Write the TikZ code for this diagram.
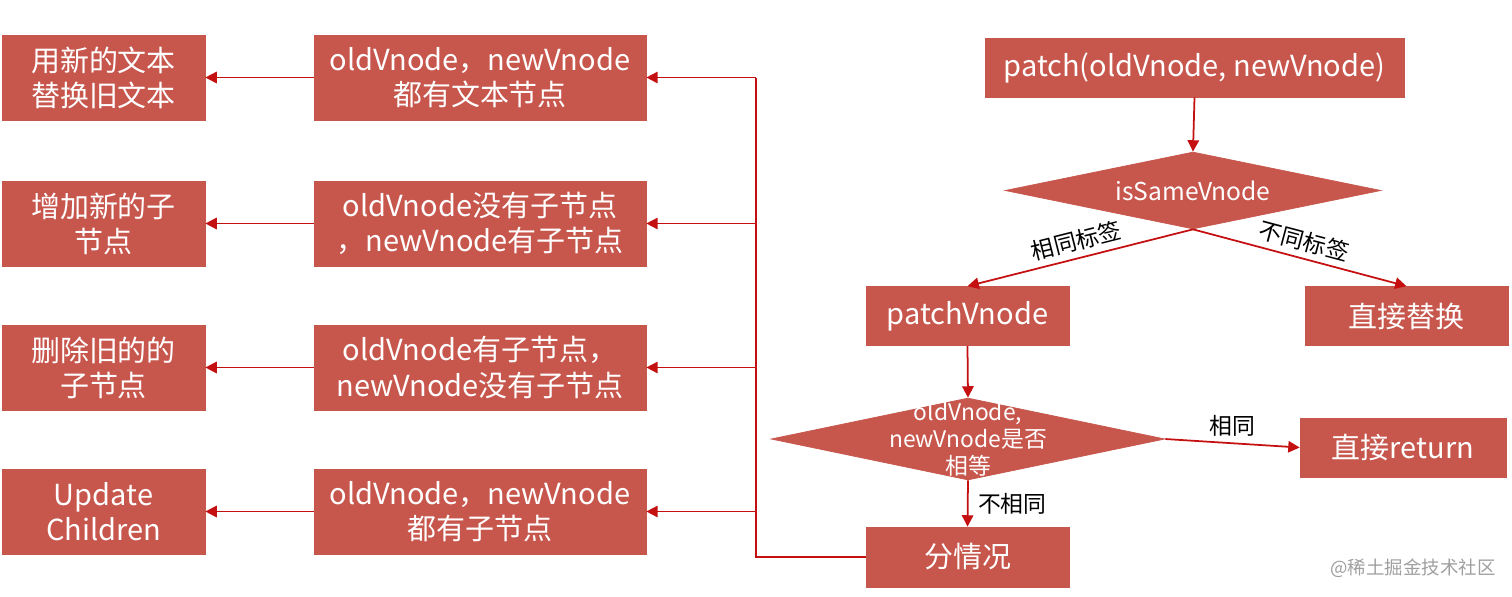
\documentclass[tikz,border=0pt]{standalone}
\usepackage{fontspec}
\setmainfont{Noto Sans CJK SC}
\usetikzlibrary{arrows.meta}
\usetikzlibrary{shapes.geometric}
\usetikzlibrary{calc}
\usepackage{xcolor}

\definecolor{boxred}{RGB}{199,86,76}
\definecolor{linered}{RGB}{196,16,16}

\tikzset{
  box/.style={draw=boxred, fill=boxred, text=white, align=center, inner sep=0pt,
    minimum width=4.06cm, minimum height=1.7cm, font=\fontsize{16.5}{20}\selectfont},
  smallbox/.style={box, minimum height=1.18cm},
  decision/.style={diamond, draw=boxred, fill=boxred, text=white, inner sep=0pt},
  flow/.style={linered, line width=1pt, -{Triangle[length=6.5pt,width=6.5pt]}},
  bus/.style={linered, line width=1pt},
  tag/.style={text=black, font=\fontsize{13}{15}\selectfont},
}

\begin{document}
\begin{tikzpicture}[x=0.02cm, y=-0.02cm]

        \useasboundingbox (0,0) rectangle (1512,596);

        % Right flow
        \node[smallbox, minimum width=8.38cm] (patch) at (1194.5,67.5) {patch(oldVnode, newVnode)};
        \node[decision, aspect=4.9, minimum width=7.52cm, minimum height=1.54cm, font=\fontsize{14}{16}\selectfont] (same) at (1193,190.5) {isSameVnode};
        \node[smallbox] (pv) at (967.5,316) {patchVnode};
        \node[smallbox] (swap) at (1406.5,316) {直接替换};
        \node[decision, aspect=4.8, minimum width=7.88cm, minimum height=1.64cm] (equal) at (968,439) {};
        \node[text=white, align=center, font=\fontsize{13}{15.3}\selectfont] (equaltxt) at (equal) {oldVnode,\\newVnode是否\\相等};
        \node[smallbox, minimum width=4.12cm] (ret) at (1403,447.5) {直接return};
        \node[smallbox, minimum height=1.2cm] (cases) at (967.5,557) {分情况};

        \draw[flow] (patch.south) -- (same.north);
        \draw[flow] (same.south) -- node[tag, midway, above, sloped] {相同标签} (pv.north);
        \draw[flow] (same.south) -- node[tag, midway, above, sloped] {不同标签} (swap.north);
        \draw[flow] (pv.south) -- (equal.north);
        \draw[flow] (equal.east) -- node[tag, midway, above] {相同} (ret.west);
        \draw[flow] (equal.south) -- node[tag, midway, right, xshift=2pt] {不相同} (cases.north);

        % Cases
        \coordinate (top) at (756,77.5);
        \draw[bus] (cases.west) -| (top);

        \foreach \i/\y/\ltxt/\mtxt in {
            1/77.5/{用新的文本\\替换旧文本}/{oldVnode，newVnode\\都有文本节点},
            2/223.5/{增加新的子\\节点}/{oldVnode没有子节点\\，newVnode有子节点},
            3/367.5/{删除旧的的\\子节点}/{oldVnode有子节点，\\newVnode没有子节点},
            4/511.5/{Update\\Children}/{oldVnode，newVnode\\都有子节点}}
        {
          \node[box] (l\i) at (103.5,\y) {\ltxt};
          \node[box, minimum width=6.64cm] (m\i) at (480,\y) {\mtxt};
          \draw[flow] (m\i.west) -- (l\i.east);
          \draw[flow] (top |- m\i.east) -- (m\i.east);
        }

        % Watermark
        \node[text=gray!75, font=\fontsize{10.5}{12}\selectfont] (mark) at (1413,568) {@稀土掘金技术社区};

\end{tikzpicture}
\end{document}
